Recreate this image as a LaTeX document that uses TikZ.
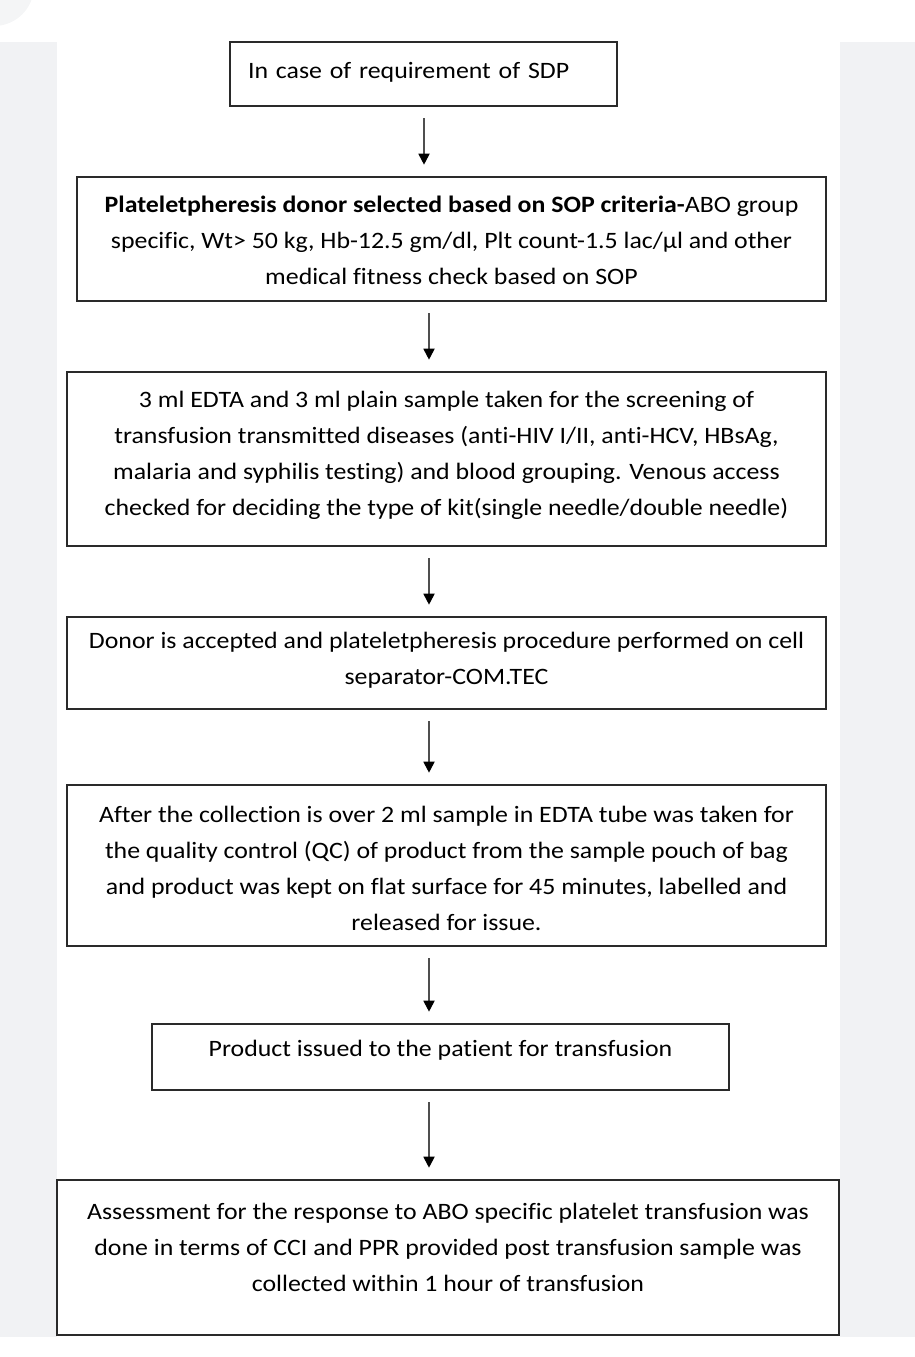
\documentclass[tikz,border=0pt]{standalone}
\usepackage{fontspec}
\setmainfont{Carlito}[FakeStretch=1.1, Ligatures=NoCommon]
\usetikzlibrary{positioning,arrows.meta}
\definecolor{panelgray}{HTML}{F1F2F4}
\definecolor{boxline}{HTML}{2A2A2A}
\definecolor{arrowline}{HTML}{4F4F4F}

\begin{document}
\begin{tikzpicture}[
    x=1pt, y=-1pt,
    stepbox/.style={draw=boxline, line width=2.6pt, fill=white, align=center, inner sep=0pt,
        text=black, font=\fontsize{23.5}{36}\selectfont},
    lift/.style={text height=#1, text depth=0pt},
    flow/.style={draw=arrowline, line width=1.8pt, -{Triangle[length=11pt, width=11pt, color=black]},
        shorten <=11pt, shorten >=11pt}
]
    \useasboundingbox (0,0) rectangle (915,1357);

    % Page background
    \fill[panelgray] (0,42) rectangle (57,1337);
    \fill[panelgray] (840,42) rectangle (915,1337);
    \fill[panelgray!80] (-6,-14) circle (40pt);

    % Step 1: requirement
    \node[stepbox, lift=8pt, minimum width=387pt, minimum height=64pt, text width=351pt, align=left] (req) at (423.5,74)
        {In case of requirement of SDP};

    % Step 2: donor selection
    \node[stepbox, lift=90pt, minimum width=749pt, minimum height=124pt] (donor) at (451.5,239)
        {\textbf{Plateletpheresis donor selected based on SOP criteria-}ABO group\\
         specific, Wt> 50 kg, Hb-12.5 gm/dl, Plt count-1.5 lac/µl and other\\
         medical fitness check based on SOP};

    % Step 3: samples and venous access
    \node[stepbox, lift=112pt, minimum width=759pt, minimum height=174pt] (sample) at (446.5,459)
        {3 ml EDTA and 3 ml plain sample taken for the screening of\\
         transfusion transmitted diseases (anti-HIV I/II, anti-HCV, HBsAg,\\
         malaria and syphilis testing) and blood grouping. Venous access\\
         checked for deciding the type of kit(single needle/double needle)};

    % Step 4: procedure
    \node[stepbox, lift=42pt, minimum width=759pt, minimum height=92pt] (proc) at (446.5,663)
        {Donor is accepted and plateletpheresis procedure performed on cell\\
         separator-COM.TEC};

    % Step 5: QC and release
    \node[stepbox, lift=129pt, minimum width=759pt, minimum height=161pt] (qc) at (446.5,865.5)
        {After the collection is over 2 ml sample in EDTA tube was taken for\\
         the quality control (QC) of product from the sample pouch of bag\\
         and product was kept on flat surface for 45 minutes, labelled and\\
         released for issue.};

    % Step 6: issue
    \node[stepbox, text height=0pt, text depth=2pt, minimum width=577pt, minimum height=66pt] (issue) at (440.5,1057)
        {Product issued to the patient for transfusion};

    % Step 7: assessment
    \node[stepbox, lift=67pt, minimum width=782pt, minimum height=155pt] (assess) at (448,1257.5)
        {Assessment for the response to ABO specific platelet transfusion was\\
         done in terms of CCI and PPR provided post transfusion sample was\\
         collected within 1 hour of transfusion};

    % Arrow columns
    \coordinate (col1) at (424,0);
    \coordinate (col2) at (429,0);

    % Arrows
    \draw[flow] (req.south -| col1) -- (donor.north -| col1);
    \draw[flow] (donor.south -| col2) -- (sample.north -| col2);
    \draw[flow] (sample.south -| col2) -- (proc.north -| col2);
    \draw[flow] (proc.south -| col2) -- (qc.north -| col2);
    \draw[flow] (qc.south -| col2) -- (issue.north -| col2);
    \draw[flow] (issue.south -| col2) -- (assess.north -| col2);
\end{tikzpicture}
\end{document}
